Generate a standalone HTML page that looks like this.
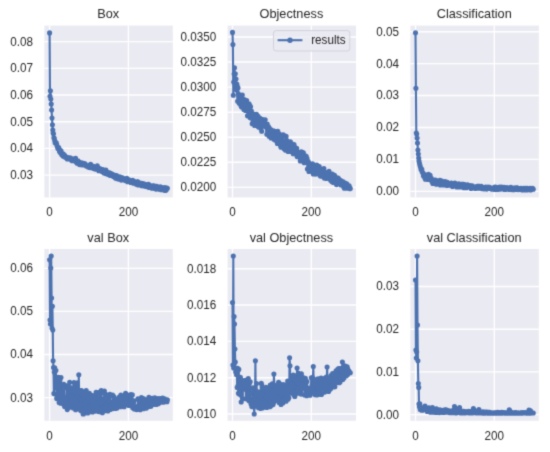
<!DOCTYPE html>
<html lang="en"><head><meta charset="utf-8"><title>results</title>
<style>
html,body{margin:0;padding:0;background:#fff;}
body{width:550px;height:452px;overflow:hidden;}
svg{display:block;}
text{font-family:"Liberation Sans",sans-serif;fill:#262626;}
.t{font-size:11.7px;}
.h{font-size:12.75px;}
</style></head><body>
<svg width="550" height="452" viewBox="0 0 550 452">
<defs><filter id="soft" x="0" y="0" width="100%" height="100%" filterUnits="objectBoundingBox" color-interpolation-filters="sRGB"><feConvolveMatrix order="3" kernelMatrix="0.0225 0.1050 0.0225 0.1050 0.4900 0.1050 0.0225 0.1050 0.0225" divisor="1" edgeMode="duplicate" preserveAlpha="true"/></filter></defs>
<g filter="url(#soft)">
<rect width="550" height="452" fill="#fff"/>
<g class="ax">
<rect x="44.4" y="25.6" width="128.4" height="171.8" fill="#eaeaf2"/>
<path d="M49.6 25.6V197.4 M128.4 25.6V197.4 M44.4 41.6H172.8 M44.4 68.3H172.8 M44.4 95.0H172.8 M44.4 121.7H172.8 M44.4 148.4H172.8 M44.4 175.1H172.8" stroke="#fff" stroke-width="1.35" fill="none"/>
<polyline points="49.6,32.9 50.0,96.3 50.4,90.7 50.8,99.0 51.2,104.0 51.6,110.0 52.0,118.0 52.4,124.8 52.8,130.0 53.1,133.0 53.5,133.7 53.9,137.8 54.3,138.2 54.7,140.5 55.1,142.7 55.5,142.6 55.9,143.3 56.3,142.9 56.7,144.4 57.1,146.0 57.5,147.3 57.9,148.4 58.3,147.8 58.7,147.6 59.1,149.0 59.5,151.4 59.8,149.8 60.2,151.1 60.6,153.1 61.0,150.9 61.4,153.2 61.8,154.8 62.2,153.2 62.6,154.6 63.0,156.1 63.4,154.1 63.8,155.7 64.2,156.8 64.6,155.4 65.0,156.8 65.4,156.4 65.8,157.4 66.1,157.2 66.5,157.6 66.9,157.4 67.3,159.0 67.7,158.9 68.1,157.7 68.5,158.6 68.9,157.8 69.3,158.5 69.7,158.3 70.1,157.8 70.5,158.6 70.9,159.0 71.3,159.9 71.7,159.1 72.1,160.8 72.5,158.7 72.8,160.5 73.2,159.8 73.6,160.0 74.0,160.8 74.4,160.6 74.8,160.5 75.2,159.4 75.6,158.3 76.0,161.9 76.4,161.6 76.8,162.3 77.2,163.3 77.6,162.6 78.0,160.9 78.4,161.9 78.8,162.9 79.2,162.0 79.5,164.4 79.9,164.6 80.3,164.5 80.7,163.5 81.1,164.7 81.5,162.7 81.9,163.4 82.3,164.0 82.7,164.9 83.1,164.3 83.5,163.3 83.9,164.1 84.3,164.1 84.7,164.2 85.1,163.9 85.5,164.8 85.8,165.0 86.2,166.1 86.6,166.3 87.0,165.6 87.4,165.5 87.8,166.6 88.2,167.0 88.6,166.5 89.0,167.0 89.4,167.5 89.8,165.0 90.2,167.6 90.6,164.3 91.0,166.6 91.4,167.7 91.8,167.6 92.2,166.0 92.5,167.7 92.9,166.1 93.3,167.1 93.7,168.6 94.1,167.5 94.5,168.2 94.9,168.7 95.3,169.1 95.7,169.1 96.1,166.9 96.5,168.3 96.9,168.6 97.3,165.9 97.7,169.1 98.1,169.4 98.5,170.2 98.8,170.7 99.2,168.4 99.6,168.8 100.0,170.2 100.4,168.8 100.8,169.2 101.2,170.4 101.6,169.4 102.0,171.4 102.4,171.8 102.8,169.6 103.2,171.3 103.6,172.2 104.0,173.0 104.4,171.1 104.8,170.9 105.2,173.2 105.5,173.5 105.9,170.0 106.3,172.5 106.7,173.5 107.1,174.1 107.5,172.3 107.9,174.0 108.3,174.6 108.7,174.0 109.1,173.0 109.5,172.8 109.9,173.8 110.3,175.5 110.7,173.4 111.1,173.5 111.5,174.7 111.9,174.0 112.2,174.4 112.6,174.2 113.0,175.8 113.4,176.5 113.8,175.8 114.2,175.1 114.6,175.8 115.0,176.8 115.4,178.0 115.8,178.3 116.2,176.2 116.6,175.6 117.0,176.6 117.4,178.7 117.8,177.4 118.2,178.5 118.6,178.9 118.9,178.3 119.3,179.3 119.7,176.9 120.1,177.8 120.5,177.9 120.9,177.6 121.3,180.1 121.7,177.6 122.1,179.6 122.5,177.9 122.9,178.9 123.3,179.1 123.7,178.5 124.1,179.6 124.5,179.8 124.9,179.2 125.2,180.6 125.6,178.9 126.0,179.1 126.4,179.7 126.8,178.3 127.2,179.5 127.6,181.7 128.0,181.5 128.4,179.5 128.8,180.3 129.2,180.0 129.6,180.8 130.0,180.3 130.4,181.1 130.8,182.5 131.2,181.0 131.6,181.9 131.9,181.8 132.3,182.4 132.7,180.4 133.1,182.6 133.5,183.3 133.9,182.4 134.3,181.6 134.7,182.9 135.1,183.1 135.5,183.1 135.9,181.7 136.3,184.3 136.7,184.3 137.1,182.8 137.5,181.9 137.9,181.9 138.2,184.9 138.6,184.5 139.0,184.1 139.4,184.6 139.8,183.0 140.2,183.4 140.6,183.4 141.0,184.5 141.4,183.2 141.8,185.7 142.2,184.5 142.6,184.5 143.0,183.6 143.4,185.4 143.8,185.9 144.2,185.5 144.6,184.4 144.9,186.1 145.3,184.3 145.7,186.4 146.1,185.8 146.5,185.0 146.9,185.8 147.3,186.2 147.7,185.2 148.1,187.1 148.5,184.3 148.9,187.4 149.3,187.3 149.7,185.2 150.1,187.0 150.5,186.0 150.9,187.5 151.3,186.9 151.6,186.8 152.0,188.2 152.4,185.7 152.8,187.3 153.2,186.7 153.6,185.8 154.0,188.1 154.4,187.5 154.8,188.6 155.2,186.2 155.6,187.1 156.0,189.1 156.4,186.5 156.8,186.4 157.2,188.5 157.6,187.5 158.0,187.5 158.3,189.1 158.7,187.5 159.1,189.2 159.5,188.6 159.9,187.7 160.3,186.9 160.7,187.6 161.1,189.8 161.5,188.2 161.9,187.5 162.3,188.0 162.7,189.8 163.1,187.7 163.5,189.6 163.9,187.7 164.3,190.3 164.6,189.0 165.0,187.6 165.4,190.4 165.8,188.7 166.2,189.9 166.6,189.3 167.0,188.1 167.4,188.2" fill="none" stroke="#4c72b0" stroke-width="2.1" stroke-linejoin="round" stroke-linecap="round"/>
<path d="M49.6 32.9h0M50.0 96.3h0M50.4 90.7h0M50.8 99.0h0M51.2 104.0h0M51.6 110.0h0M52.0 118.0h0M52.4 124.8h0M52.8 130.0h0M53.1 133.0h0M53.5 133.7h0M53.9 137.8h0M54.3 138.2h0M54.7 140.5h0M55.1 142.7h0M55.5 142.6h0M55.9 143.3h0M56.3 142.9h0M56.7 144.4h0M57.1 146.0h0M57.5 147.3h0M57.9 148.4h0M58.3 147.8h0M58.7 147.6h0M59.1 149.0h0M59.5 151.4h0M59.8 149.8h0M60.2 151.1h0M60.6 153.1h0M61.0 150.9h0M61.4 153.2h0M61.8 154.8h0M62.2 153.2h0M62.6 154.6h0M63.0 156.1h0M63.4 154.1h0M63.8 155.7h0M64.2 156.8h0M64.6 155.4h0M65.0 156.8h0M65.4 156.4h0M65.8 157.4h0M66.1 157.2h0M66.5 157.6h0M66.9 157.4h0M67.3 159.0h0M67.7 158.9h0M68.1 157.7h0M68.5 158.6h0M68.9 157.8h0M69.3 158.5h0M69.7 158.3h0M70.1 157.8h0M70.5 158.6h0M70.9 159.0h0M71.3 159.9h0M71.7 159.1h0M72.1 160.8h0M72.5 158.7h0M72.8 160.5h0M73.2 159.8h0M73.6 160.0h0M74.0 160.8h0M74.4 160.6h0M74.8 160.5h0M75.2 159.4h0M75.6 158.3h0M76.0 161.9h0M76.4 161.6h0M76.8 162.3h0M77.2 163.3h0M77.6 162.6h0M78.0 160.9h0M78.4 161.9h0M78.8 162.9h0M79.2 162.0h0M79.5 164.4h0M79.9 164.6h0M80.3 164.5h0M80.7 163.5h0M81.1 164.7h0M81.5 162.7h0M81.9 163.4h0M82.3 164.0h0M82.7 164.9h0M83.1 164.3h0M83.5 163.3h0M83.9 164.1h0M84.3 164.1h0M84.7 164.2h0M85.1 163.9h0M85.5 164.8h0M85.8 165.0h0M86.2 166.1h0M86.6 166.3h0M87.0 165.6h0M87.4 165.5h0M87.8 166.6h0M88.2 167.0h0M88.6 166.5h0M89.0 167.0h0M89.4 167.5h0M89.8 165.0h0M90.2 167.6h0M90.6 164.3h0M91.0 166.6h0M91.4 167.7h0M91.8 167.6h0M92.2 166.0h0M92.5 167.7h0M92.9 166.1h0M93.3 167.1h0M93.7 168.6h0M94.1 167.5h0M94.5 168.2h0M94.9 168.7h0M95.3 169.1h0M95.7 169.1h0M96.1 166.9h0M96.5 168.3h0M96.9 168.6h0M97.3 165.9h0M97.7 169.1h0M98.1 169.4h0M98.5 170.2h0M98.8 170.7h0M99.2 168.4h0M99.6 168.8h0M100.0 170.2h0M100.4 168.8h0M100.8 169.2h0M101.2 170.4h0M101.6 169.4h0M102.0 171.4h0M102.4 171.8h0M102.8 169.6h0M103.2 171.3h0M103.6 172.2h0M104.0 173.0h0M104.4 171.1h0M104.8 170.9h0M105.2 173.2h0M105.5 173.5h0M105.9 170.0h0M106.3 172.5h0M106.7 173.5h0M107.1 174.1h0M107.5 172.3h0M107.9 174.0h0M108.3 174.6h0M108.7 174.0h0M109.1 173.0h0M109.5 172.8h0M109.9 173.8h0M110.3 175.5h0M110.7 173.4h0M111.1 173.5h0M111.5 174.7h0M111.9 174.0h0M112.2 174.4h0M112.6 174.2h0M113.0 175.8h0M113.4 176.5h0M113.8 175.8h0M114.2 175.1h0M114.6 175.8h0M115.0 176.8h0M115.4 178.0h0M115.8 178.3h0M116.2 176.2h0M116.6 175.6h0M117.0 176.6h0M117.4 178.7h0M117.8 177.4h0M118.2 178.5h0M118.6 178.9h0M118.9 178.3h0M119.3 179.3h0M119.7 176.9h0M120.1 177.8h0M120.5 177.9h0M120.9 177.6h0M121.3 180.1h0M121.7 177.6h0M122.1 179.6h0M122.5 177.9h0M122.9 178.9h0M123.3 179.1h0M123.7 178.5h0M124.1 179.6h0M124.5 179.8h0M124.9 179.2h0M125.2 180.6h0M125.6 178.9h0M126.0 179.1h0M126.4 179.7h0M126.8 178.3h0M127.2 179.5h0M127.6 181.7h0M128.0 181.5h0M128.4 179.5h0M128.8 180.3h0M129.2 180.0h0M129.6 180.8h0M130.0 180.3h0M130.4 181.1h0M130.8 182.5h0M131.2 181.0h0M131.6 181.9h0M131.9 181.8h0M132.3 182.4h0M132.7 180.4h0M133.1 182.6h0M133.5 183.3h0M133.9 182.4h0M134.3 181.6h0M134.7 182.9h0M135.1 183.1h0M135.5 183.1h0M135.9 181.7h0M136.3 184.3h0M136.7 184.3h0M137.1 182.8h0M137.5 181.9h0M137.9 181.9h0M138.2 184.9h0M138.6 184.5h0M139.0 184.1h0M139.4 184.6h0M139.8 183.0h0M140.2 183.4h0M140.6 183.4h0M141.0 184.5h0M141.4 183.2h0M141.8 185.7h0M142.2 184.5h0M142.6 184.5h0M143.0 183.6h0M143.4 185.4h0M143.8 185.9h0M144.2 185.5h0M144.6 184.4h0M144.9 186.1h0M145.3 184.3h0M145.7 186.4h0M146.1 185.8h0M146.5 185.0h0M146.9 185.8h0M147.3 186.2h0M147.7 185.2h0M148.1 187.1h0M148.5 184.3h0M148.9 187.4h0M149.3 187.3h0M149.7 185.2h0M150.1 187.0h0M150.5 186.0h0M150.9 187.5h0M151.3 186.9h0M151.6 186.8h0M152.0 188.2h0M152.4 185.7h0M152.8 187.3h0M153.2 186.7h0M153.6 185.8h0M154.0 188.1h0M154.4 187.5h0M154.8 188.6h0M155.2 186.2h0M155.6 187.1h0M156.0 189.1h0M156.4 186.5h0M156.8 186.4h0M157.2 188.5h0M157.6 187.5h0M158.0 187.5h0M158.3 189.1h0M158.7 187.5h0M159.1 189.2h0M159.5 188.6h0M159.9 187.7h0M160.3 186.9h0M160.7 187.6h0M161.1 189.8h0M161.5 188.2h0M161.9 187.5h0M162.3 188.0h0M162.7 189.8h0M163.1 187.7h0M163.5 189.6h0M163.9 187.7h0M164.3 190.3h0M164.6 189.0h0M165.0 187.6h0M165.4 190.4h0M165.8 188.7h0M166.2 189.9h0M166.6 189.3h0M167.0 188.1h0M167.4 188.2h0" stroke="#4c72b0" stroke-width="5.1" stroke-linecap="round" fill="none"/>
<text class="t" transform="translate(33.1 45.5) scale(1 1.08)" text-anchor="end">0.08</text>
<text class="t" transform="translate(33.1 72.2) scale(1 1.08)" text-anchor="end">0.07</text>
<text class="t" transform="translate(33.1 98.9) scale(1 1.08)" text-anchor="end">0.06</text>
<text class="t" transform="translate(33.1 125.6) scale(1 1.08)" text-anchor="end">0.05</text>
<text class="t" transform="translate(33.1 152.3) scale(1 1.08)" text-anchor="end">0.04</text>
<text class="t" transform="translate(33.1 179.0) scale(1 1.08)" text-anchor="end">0.03</text>
<text class="t" transform="translate(49.6 216.4) scale(1 1.08)" text-anchor="middle">0</text>
<text class="t" transform="translate(128.4 216.4) scale(1 1.08)" text-anchor="middle">200</text>
<text class="h" transform="translate(108.2 18.4) scale(1 1.07)" text-anchor="middle">Box</text>
</g>
<g class="ax">
<rect x="227.6" y="25.6" width="128.4" height="171.8" fill="#eaeaf2"/>
<path d="M232.5 25.6V197.4 M311.3 25.6V197.4 M227.6 37.0H356.0 M227.6 62.0H356.0 M227.6 87.1H356.0 M227.6 112.2H356.0 M227.6 137.2H356.0 M227.6 162.2H356.0 M227.6 187.3H356.0" stroke="#fff" stroke-width="1.35" fill="none"/>
<polyline points="232.5,32.4 232.9,44.6 233.3,95.2 233.7,82.0 234.1,74.0 234.5,67.8 234.9,80.0 235.3,73.8 235.7,88.0 236.0,79.0 236.4,90.0 236.8,84.0 237.2,85.7 237.6,101.3 238.0,87.9 238.4,93.9 238.8,97.0 239.2,103.3 239.6,103.1 240.0,100.7 240.4,97.9 240.8,105.3 241.2,106.3 241.6,106.9 242.0,104.9 242.3,95.0 242.7,98.8 243.1,102.5 243.5,103.2 243.9,109.4 244.3,99.5 244.7,107.5 245.1,102.7 245.5,110.5 245.9,100.8 246.3,106.3 246.7,100.6 247.1,103.1 247.5,115.7 247.9,106.1 248.3,115.9 248.7,110.6 249.0,103.7 249.4,115.9 249.8,105.3 250.2,117.8 250.6,106.8 251.0,117.3 251.4,111.1 251.8,114.6 252.2,123.7 252.6,118.4 253.0,120.9 253.4,122.3 253.8,114.1 254.2,124.2 254.6,125.5 255.0,115.4 255.4,121.0 255.7,117.6 256.1,124.2 256.5,114.4 256.9,121.5 257.3,125.7 257.7,125.2 258.1,116.4 258.5,127.1 258.9,118.7 259.3,127.3 259.7,123.0 260.1,118.3 260.5,127.0 260.9,128.4 261.3,127.0 261.7,131.3 262.1,120.8 262.4,120.7 262.8,119.6 263.2,125.9 263.6,124.1 264.0,123.8 264.4,125.7 264.8,123.3 265.2,119.7 265.6,126.8 266.0,124.3 266.4,127.2 266.8,134.2 267.2,124.0 267.6,130.7 268.0,131.1 268.4,126.5 268.7,129.4 269.1,136.3 269.5,128.4 269.9,133.5 270.3,135.5 270.7,129.6 271.1,137.9 271.5,133.6 271.9,132.4 272.3,135.3 272.7,132.1 273.1,135.8 273.5,130.9 273.9,139.2 274.3,134.8 274.7,131.2 275.1,134.0 275.4,140.3 275.8,139.6 276.2,135.6 276.6,134.0 277.0,134.7 277.4,143.5 277.8,131.4 278.2,142.9 278.6,142.9 279.0,133.8 279.4,136.0 279.8,139.6 280.2,143.5 280.6,146.2 281.0,147.3 281.4,136.3 281.8,135.1 282.1,140.2 282.5,141.6 282.9,143.6 283.3,134.8 283.7,144.0 284.1,148.7 284.5,148.8 284.9,149.5 285.3,149.4 285.7,150.2 286.1,136.4 286.5,149.9 286.9,140.5 287.3,141.6 287.7,143.9 288.1,151.4 288.4,146.6 288.8,143.3 289.2,143.9 289.6,151.5 290.0,150.6 290.4,141.7 290.8,143.6 291.2,145.5 291.6,143.8 292.0,148.5 292.4,144.6 292.8,149.2 293.2,153.8 293.6,153.1 294.0,144.5 294.4,146.2 294.8,149.0 295.1,152.2 295.5,149.4 295.9,148.2 296.3,149.6 296.7,148.3 297.1,156.6 297.5,154.9 297.9,151.9 298.3,155.7 298.7,153.9 299.1,154.3 299.5,152.8 299.9,154.6 300.3,160.9 300.7,158.9 301.1,159.8 301.4,151.7 301.8,156.6 302.2,155.3 302.6,152.3 303.0,156.4 303.4,152.9 303.8,155.4 304.2,162.7 304.6,161.9 305.0,162.6 305.4,155.8 305.8,157.3 306.2,156.2 306.6,157.7 307.0,158.3 307.4,169.1 307.8,168.9 308.1,161.2 308.5,162.4 308.9,171.4 309.3,167.3 309.7,165.4 310.1,166.8 310.5,164.6 310.9,168.5 311.3,170.3 311.7,168.0 312.1,171.6 312.5,163.8 312.9,169.4 313.3,173.9 313.7,164.8 314.1,168.7 314.5,170.3 314.8,167.4 315.2,174.1 315.6,169.3 316.0,169.4 316.4,173.9 316.8,165.0 317.2,173.8 317.6,166.5 318.0,169.2 318.4,170.4 318.8,170.5 319.2,166.5 319.6,169.3 320.0,169.9 320.4,175.9 320.8,175.7 321.1,172.7 321.5,176.2 321.9,175.8 322.3,171.3 322.7,169.0 323.1,173.9 323.5,171.4 323.9,168.5 324.3,178.1 324.7,178.1 325.1,174.2 325.5,175.2 325.9,175.9 326.3,178.5 326.7,174.3 327.1,175.6 327.5,172.4 327.8,172.7 328.2,175.6 328.6,173.0 329.0,171.3 329.4,174.8 329.8,178.7 330.2,174.5 330.6,180.3 331.0,179.1 331.4,178.9 331.8,181.4 332.2,174.1 332.6,175.4 333.0,182.3 333.4,182.5 333.8,175.4 334.2,181.8 334.5,175.4 334.9,176.8 335.3,176.8 335.7,178.7 336.1,179.8 336.5,184.6 336.9,180.8 337.3,178.4 337.7,180.0 338.1,178.1 338.5,178.5 338.9,182.2 339.3,183.1 339.7,181.1 340.1,182.4 340.5,180.4 340.9,184.9 341.2,183.0 341.6,181.4 342.0,184.1 342.4,182.1 342.8,182.9 343.2,181.9 343.6,186.7 344.0,183.4 344.4,188.2 344.8,184.6 345.2,183.1 345.6,186.9 346.0,187.2 346.4,188.3 346.8,183.7 347.2,187.9 347.5,188.3 347.9,185.4 348.3,186.3 348.7,187.3 349.1,185.7 349.5,188.6 349.9,187.9 350.3,188.6" fill="none" stroke="#4c72b0" stroke-width="2.1" stroke-linejoin="round" stroke-linecap="round"/>
<path d="M232.5 32.4h0M232.9 44.6h0M233.3 95.2h0M233.7 82.0h0M234.1 74.0h0M234.5 67.8h0M234.9 80.0h0M235.3 73.8h0M235.7 88.0h0M236.0 79.0h0M236.4 90.0h0M236.8 84.0h0M237.2 85.7h0M237.6 101.3h0M238.0 87.9h0M238.4 93.9h0M238.8 97.0h0M239.2 103.3h0M239.6 103.1h0M240.0 100.7h0M240.4 97.9h0M240.8 105.3h0M241.2 106.3h0M241.6 106.9h0M242.0 104.9h0M242.3 95.0h0M242.7 98.8h0M243.1 102.5h0M243.5 103.2h0M243.9 109.4h0M244.3 99.5h0M244.7 107.5h0M245.1 102.7h0M245.5 110.5h0M245.9 100.8h0M246.3 106.3h0M246.7 100.6h0M247.1 103.1h0M247.5 115.7h0M247.9 106.1h0M248.3 115.9h0M248.7 110.6h0M249.0 103.7h0M249.4 115.9h0M249.8 105.3h0M250.2 117.8h0M250.6 106.8h0M251.0 117.3h0M251.4 111.1h0M251.8 114.6h0M252.2 123.7h0M252.6 118.4h0M253.0 120.9h0M253.4 122.3h0M253.8 114.1h0M254.2 124.2h0M254.6 125.5h0M255.0 115.4h0M255.4 121.0h0M255.7 117.6h0M256.1 124.2h0M256.5 114.4h0M256.9 121.5h0M257.3 125.7h0M257.7 125.2h0M258.1 116.4h0M258.5 127.1h0M258.9 118.7h0M259.3 127.3h0M259.7 123.0h0M260.1 118.3h0M260.5 127.0h0M260.9 128.4h0M261.3 127.0h0M261.7 131.3h0M262.1 120.8h0M262.4 120.7h0M262.8 119.6h0M263.2 125.9h0M263.6 124.1h0M264.0 123.8h0M264.4 125.7h0M264.8 123.3h0M265.2 119.7h0M265.6 126.8h0M266.0 124.3h0M266.4 127.2h0M266.8 134.2h0M267.2 124.0h0M267.6 130.7h0M268.0 131.1h0M268.4 126.5h0M268.7 129.4h0M269.1 136.3h0M269.5 128.4h0M269.9 133.5h0M270.3 135.5h0M270.7 129.6h0M271.1 137.9h0M271.5 133.6h0M271.9 132.4h0M272.3 135.3h0M272.7 132.1h0M273.1 135.8h0M273.5 130.9h0M273.9 139.2h0M274.3 134.8h0M274.7 131.2h0M275.1 134.0h0M275.4 140.3h0M275.8 139.6h0M276.2 135.6h0M276.6 134.0h0M277.0 134.7h0M277.4 143.5h0M277.8 131.4h0M278.2 142.9h0M278.6 142.9h0M279.0 133.8h0M279.4 136.0h0M279.8 139.6h0M280.2 143.5h0M280.6 146.2h0M281.0 147.3h0M281.4 136.3h0M281.8 135.1h0M282.1 140.2h0M282.5 141.6h0M282.9 143.6h0M283.3 134.8h0M283.7 144.0h0M284.1 148.7h0M284.5 148.8h0M284.9 149.5h0M285.3 149.4h0M285.7 150.2h0M286.1 136.4h0M286.5 149.9h0M286.9 140.5h0M287.3 141.6h0M287.7 143.9h0M288.1 151.4h0M288.4 146.6h0M288.8 143.3h0M289.2 143.9h0M289.6 151.5h0M290.0 150.6h0M290.4 141.7h0M290.8 143.6h0M291.2 145.5h0M291.6 143.8h0M292.0 148.5h0M292.4 144.6h0M292.8 149.2h0M293.2 153.8h0M293.6 153.1h0M294.0 144.5h0M294.4 146.2h0M294.8 149.0h0M295.1 152.2h0M295.5 149.4h0M295.9 148.2h0M296.3 149.6h0M296.7 148.3h0M297.1 156.6h0M297.5 154.9h0M297.9 151.9h0M298.3 155.7h0M298.7 153.9h0M299.1 154.3h0M299.5 152.8h0M299.9 154.6h0M300.3 160.9h0M300.7 158.9h0M301.1 159.8h0M301.4 151.7h0M301.8 156.6h0M302.2 155.3h0M302.6 152.3h0M303.0 156.4h0M303.4 152.9h0M303.8 155.4h0M304.2 162.7h0M304.6 161.9h0M305.0 162.6h0M305.4 155.8h0M305.8 157.3h0M306.2 156.2h0M306.6 157.7h0M307.0 158.3h0M307.4 169.1h0M307.8 168.9h0M308.1 161.2h0M308.5 162.4h0M308.9 171.4h0M309.3 167.3h0M309.7 165.4h0M310.1 166.8h0M310.5 164.6h0M310.9 168.5h0M311.3 170.3h0M311.7 168.0h0M312.1 171.6h0M312.5 163.8h0M312.9 169.4h0M313.3 173.9h0M313.7 164.8h0M314.1 168.7h0M314.5 170.3h0M314.8 167.4h0M315.2 174.1h0M315.6 169.3h0M316.0 169.4h0M316.4 173.9h0M316.8 165.0h0M317.2 173.8h0M317.6 166.5h0M318.0 169.2h0M318.4 170.4h0M318.8 170.5h0M319.2 166.5h0M319.6 169.3h0M320.0 169.9h0M320.4 175.9h0M320.8 175.7h0M321.1 172.7h0M321.5 176.2h0M321.9 175.8h0M322.3 171.3h0M322.7 169.0h0M323.1 173.9h0M323.5 171.4h0M323.9 168.5h0M324.3 178.1h0M324.7 178.1h0M325.1 174.2h0M325.5 175.2h0M325.9 175.9h0M326.3 178.5h0M326.7 174.3h0M327.1 175.6h0M327.5 172.4h0M327.8 172.7h0M328.2 175.6h0M328.6 173.0h0M329.0 171.3h0M329.4 174.8h0M329.8 178.7h0M330.2 174.5h0M330.6 180.3h0M331.0 179.1h0M331.4 178.9h0M331.8 181.4h0M332.2 174.1h0M332.6 175.4h0M333.0 182.3h0M333.4 182.5h0M333.8 175.4h0M334.2 181.8h0M334.5 175.4h0M334.9 176.8h0M335.3 176.8h0M335.7 178.7h0M336.1 179.8h0M336.5 184.6h0M336.9 180.8h0M337.3 178.4h0M337.7 180.0h0M338.1 178.1h0M338.5 178.5h0M338.9 182.2h0M339.3 183.1h0M339.7 181.1h0M340.1 182.4h0M340.5 180.4h0M340.9 184.9h0M341.2 183.0h0M341.6 181.4h0M342.0 184.1h0M342.4 182.1h0M342.8 182.9h0M343.2 181.9h0M343.6 186.7h0M344.0 183.4h0M344.4 188.2h0M344.8 184.6h0M345.2 183.1h0M345.6 186.9h0M346.0 187.2h0M346.4 188.3h0M346.8 183.7h0M347.2 187.9h0M347.5 188.3h0M347.9 185.4h0M348.3 186.3h0M348.7 187.3h0M349.1 185.7h0M349.5 188.6h0M349.9 187.9h0M350.3 188.6h0" stroke="#4c72b0" stroke-width="5.1" stroke-linecap="round" fill="none"/>
<text class="t" transform="translate(216.3 40.9) scale(1 1.08)" text-anchor="end">0.0350</text>
<text class="t" transform="translate(216.3 66.0) scale(1 1.08)" text-anchor="end">0.0325</text>
<text class="t" transform="translate(216.3 91.0) scale(1 1.08)" text-anchor="end">0.0300</text>
<text class="t" transform="translate(216.3 116.1) scale(1 1.08)" text-anchor="end">0.0275</text>
<text class="t" transform="translate(216.3 141.1) scale(1 1.08)" text-anchor="end">0.0250</text>
<text class="t" transform="translate(216.3 166.2) scale(1 1.08)" text-anchor="end">0.0225</text>
<text class="t" transform="translate(216.3 191.2) scale(1 1.08)" text-anchor="end">0.0200</text>
<text class="t" transform="translate(232.5 216.4) scale(1 1.08)" text-anchor="middle">0</text>
<text class="t" transform="translate(311.3 216.4) scale(1 1.08)" text-anchor="middle">200</text>
<text class="h" transform="translate(291.4 18.4) scale(1 1.07)" text-anchor="middle">Objectness</text>
<rect x="273.5" y="30.6" width="76.3" height="20.4" rx="2.6" fill="#eaeaf2" fill-opacity="0.85" stroke="#d2d2da" stroke-width="1"/>
<path d="M277.6 40.2H302.4" stroke="#4c72b0" stroke-width="2.1" fill="none"/>
<circle cx="290" cy="40.2" r="2.7" fill="#4c72b0"/>
<text class="t" transform="translate(311.2 44.2) scale(1 1.08)">results</text>
</g>
<g class="ax">
<rect x="410.4" y="25.6" width="128.4" height="171.8" fill="#eaeaf2"/>
<path d="M415.5 25.6V197.4 M494.3 25.6V197.4 M410.4 31.7H538.8 M410.4 63.6H538.8 M410.4 95.5H538.8 M410.4 127.5H538.8 M410.4 159.4H538.8 M410.4 191.3H538.8" stroke="#fff" stroke-width="1.35" fill="none"/>
<polyline points="415.5,32.7 415.9,88.2 416.3,133.0 416.7,134.0 417.1,138.0 417.5,143.0 417.9,150.0 418.3,154.0 418.7,158.0 419.0,161.0 419.4,163.0 419.8,164.8 420.2,166.2 420.6,167.5 421.0,169.5 421.4,168.8 421.8,169.3 422.2,171.9 422.6,172.5 423.0,173.0 423.4,175.8 423.8,176.3 424.2,174.4 424.6,176.8 425.0,178.3 425.4,179.3 425.7,174.8 426.1,179.3 426.5,175.7 426.9,178.6 427.3,177.9 427.7,179.4 428.1,177.5 428.5,174.4 428.9,177.1 429.3,174.8 429.7,178.5 430.1,175.3 430.5,177.5 430.9,180.1 431.3,178.3 431.7,181.1 432.0,181.8 432.4,182.3 432.8,183.4 433.2,181.6 433.6,180.3 434.0,180.9 434.4,181.6 434.8,180.0 435.2,183.2 435.6,180.2 436.0,180.2 436.4,184.3 436.8,183.8 437.2,181.2 437.6,181.7 438.0,183.9 438.4,183.0 438.7,181.4 439.1,182.3 439.5,184.2 439.9,180.4 440.3,184.9 440.7,183.0 441.1,181.3 441.5,184.2 441.9,181.0 442.3,182.6 442.7,183.4 443.1,182.0 443.5,184.9 443.9,184.1 444.3,181.8 444.7,181.9 445.1,181.5 445.4,183.8 445.8,182.2 446.2,183.8 446.6,185.1 447.0,185.4 447.4,182.2 447.8,183.2 448.2,183.6 448.6,183.6 449.0,183.8 449.4,184.0 449.8,185.3 450.2,183.5 450.6,183.7 451.0,184.0 451.4,183.0 451.7,185.1 452.1,184.2 452.5,186.4 452.9,186.0 453.3,183.7 453.7,183.8 454.1,186.0 454.5,185.2 454.9,183.1 455.3,185.6 455.7,184.7 456.1,186.3 456.5,186.2 456.9,186.9 457.3,186.1 457.7,187.0 458.1,184.6 458.4,184.8 458.8,183.8 459.2,186.9 459.6,184.2 460.0,185.8 460.4,185.7 460.8,186.9 461.2,185.3 461.6,184.4 462.0,185.4 462.4,184.2 462.8,185.2 463.2,186.4 463.6,184.4 464.0,187.8 464.4,186.2 464.8,185.4 465.1,187.3 465.5,184.9 465.9,185.6 466.3,187.8 466.7,185.4 467.1,187.2 467.5,184.9 467.9,186.5 468.3,187.0 468.7,185.5 469.1,186.0 469.5,186.8 469.9,186.9 470.3,185.5 470.7,186.4 471.1,188.4 471.4,186.2 471.8,187.8 472.2,185.9 472.6,186.8 473.0,187.0 473.4,187.3 473.8,187.7 474.2,188.0 474.6,187.7 475.0,188.1 475.4,188.4 475.8,186.7 476.2,188.3 476.6,187.4 477.0,186.6 477.4,186.4 477.8,188.3 478.1,187.9 478.5,186.2 478.9,187.8 479.3,186.2 479.7,187.3 480.1,187.9 480.5,188.2 480.9,186.7 481.3,186.4 481.7,188.0 482.1,188.8 482.5,188.7 482.9,187.4 483.3,188.1 483.7,188.5 484.1,189.0 484.4,187.9 484.8,189.0 485.2,187.4 485.6,187.2 486.0,187.4 486.4,188.6 486.8,189.1 487.2,187.9 487.6,188.6 488.0,187.0 488.4,188.1 488.8,187.9 489.2,187.9 489.6,187.3 490.0,188.5 490.4,188.6 490.8,188.5 491.1,188.8 491.5,188.1 491.9,189.2 492.3,188.4 492.7,189.3 493.1,188.0 493.5,188.8 493.9,187.5 494.3,187.2 494.7,189.4 495.1,188.0 495.5,187.1 495.9,188.6 496.3,189.4 496.7,189.0 497.1,189.5 497.5,189.4 497.8,188.2 498.2,187.6 498.6,187.2 499.0,187.7 499.4,188.6 499.8,189.3 500.2,187.0 500.6,189.1 501.0,189.0 501.4,188.8 501.8,187.4 502.2,187.2 502.6,188.9 503.0,188.6 503.4,188.0 503.8,187.9 504.1,187.2 504.5,189.5 504.9,189.1 505.3,189.5 505.7,189.1 506.1,188.2 506.5,189.1 506.9,187.6 507.3,188.7 507.7,187.7 508.1,188.1 508.5,189.3 508.9,188.2 509.3,189.4 509.7,188.7 510.1,188.0 510.5,187.9 510.8,187.4 511.2,188.7 511.6,189.4 512.0,187.9 512.4,188.6 512.8,189.7 513.2,188.4 513.6,189.7 514.0,189.4 514.4,188.7 514.8,189.0 515.2,187.8 515.6,188.8 516.0,189.4 516.4,188.2 516.8,187.8 517.2,187.8 517.5,188.1 517.9,188.3 518.3,189.6 518.7,188.9 519.1,189.1 519.5,188.6 519.9,188.6 520.3,189.1 520.7,189.5 521.1,188.3 521.5,188.9 521.9,189.3 522.3,190.0 522.7,188.5 523.1,188.8 523.5,189.1 523.9,188.2 524.2,189.2 524.6,190.0 525.0,188.5 525.4,189.0 525.8,188.2 526.2,189.0 526.6,190.0 527.0,189.1 527.4,188.4 527.8,188.6 528.2,189.3 528.6,189.7 529.0,188.9 529.4,189.0 529.8,189.6 530.2,188.2 530.5,189.9 530.9,188.9 531.3,188.7 531.7,189.6 532.1,188.5 532.5,188.3 532.9,188.5 533.3,189.3" fill="none" stroke="#4c72b0" stroke-width="2.1" stroke-linejoin="round" stroke-linecap="round"/>
<path d="M415.5 32.7h0M415.9 88.2h0M416.3 133.0h0M416.7 134.0h0M417.1 138.0h0M417.5 143.0h0M417.9 150.0h0M418.3 154.0h0M418.7 158.0h0M419.0 161.0h0M419.4 163.0h0M419.8 164.8h0M420.2 166.2h0M420.6 167.5h0M421.0 169.5h0M421.4 168.8h0M421.8 169.3h0M422.2 171.9h0M422.6 172.5h0M423.0 173.0h0M423.4 175.8h0M423.8 176.3h0M424.2 174.4h0M424.6 176.8h0M425.0 178.3h0M425.4 179.3h0M425.7 174.8h0M426.1 179.3h0M426.5 175.7h0M426.9 178.6h0M427.3 177.9h0M427.7 179.4h0M428.1 177.5h0M428.5 174.4h0M428.9 177.1h0M429.3 174.8h0M429.7 178.5h0M430.1 175.3h0M430.5 177.5h0M430.9 180.1h0M431.3 178.3h0M431.7 181.1h0M432.0 181.8h0M432.4 182.3h0M432.8 183.4h0M433.2 181.6h0M433.6 180.3h0M434.0 180.9h0M434.4 181.6h0M434.8 180.0h0M435.2 183.2h0M435.6 180.2h0M436.0 180.2h0M436.4 184.3h0M436.8 183.8h0M437.2 181.2h0M437.6 181.7h0M438.0 183.9h0M438.4 183.0h0M438.7 181.4h0M439.1 182.3h0M439.5 184.2h0M439.9 180.4h0M440.3 184.9h0M440.7 183.0h0M441.1 181.3h0M441.5 184.2h0M441.9 181.0h0M442.3 182.6h0M442.7 183.4h0M443.1 182.0h0M443.5 184.9h0M443.9 184.1h0M444.3 181.8h0M444.7 181.9h0M445.1 181.5h0M445.4 183.8h0M445.8 182.2h0M446.2 183.8h0M446.6 185.1h0M447.0 185.4h0M447.4 182.2h0M447.8 183.2h0M448.2 183.6h0M448.6 183.6h0M449.0 183.8h0M449.4 184.0h0M449.8 185.3h0M450.2 183.5h0M450.6 183.7h0M451.0 184.0h0M451.4 183.0h0M451.7 185.1h0M452.1 184.2h0M452.5 186.4h0M452.9 186.0h0M453.3 183.7h0M453.7 183.8h0M454.1 186.0h0M454.5 185.2h0M454.9 183.1h0M455.3 185.6h0M455.7 184.7h0M456.1 186.3h0M456.5 186.2h0M456.9 186.9h0M457.3 186.1h0M457.7 187.0h0M458.1 184.6h0M458.4 184.8h0M458.8 183.8h0M459.2 186.9h0M459.6 184.2h0M460.0 185.8h0M460.4 185.7h0M460.8 186.9h0M461.2 185.3h0M461.6 184.4h0M462.0 185.4h0M462.4 184.2h0M462.8 185.2h0M463.2 186.4h0M463.6 184.4h0M464.0 187.8h0M464.4 186.2h0M464.8 185.4h0M465.1 187.3h0M465.5 184.9h0M465.9 185.6h0M466.3 187.8h0M466.7 185.4h0M467.1 187.2h0M467.5 184.9h0M467.9 186.5h0M468.3 187.0h0M468.7 185.5h0M469.1 186.0h0M469.5 186.8h0M469.9 186.9h0M470.3 185.5h0M470.7 186.4h0M471.1 188.4h0M471.4 186.2h0M471.8 187.8h0M472.2 185.9h0M472.6 186.8h0M473.0 187.0h0M473.4 187.3h0M473.8 187.7h0M474.2 188.0h0M474.6 187.7h0M475.0 188.1h0M475.4 188.4h0M475.8 186.7h0M476.2 188.3h0M476.6 187.4h0M477.0 186.6h0M477.4 186.4h0M477.8 188.3h0M478.1 187.9h0M478.5 186.2h0M478.9 187.8h0M479.3 186.2h0M479.7 187.3h0M480.1 187.9h0M480.5 188.2h0M480.9 186.7h0M481.3 186.4h0M481.7 188.0h0M482.1 188.8h0M482.5 188.7h0M482.9 187.4h0M483.3 188.1h0M483.7 188.5h0M484.1 189.0h0M484.4 187.9h0M484.8 189.0h0M485.2 187.4h0M485.6 187.2h0M486.0 187.4h0M486.4 188.6h0M486.8 189.1h0M487.2 187.9h0M487.6 188.6h0M488.0 187.0h0M488.4 188.1h0M488.8 187.9h0M489.2 187.9h0M489.6 187.3h0M490.0 188.5h0M490.4 188.6h0M490.8 188.5h0M491.1 188.8h0M491.5 188.1h0M491.9 189.2h0M492.3 188.4h0M492.7 189.3h0M493.1 188.0h0M493.5 188.8h0M493.9 187.5h0M494.3 187.2h0M494.7 189.4h0M495.1 188.0h0M495.5 187.1h0M495.9 188.6h0M496.3 189.4h0M496.7 189.0h0M497.1 189.5h0M497.5 189.4h0M497.8 188.2h0M498.2 187.6h0M498.6 187.2h0M499.0 187.7h0M499.4 188.6h0M499.8 189.3h0M500.2 187.0h0M500.6 189.1h0M501.0 189.0h0M501.4 188.8h0M501.8 187.4h0M502.2 187.2h0M502.6 188.9h0M503.0 188.6h0M503.4 188.0h0M503.8 187.9h0M504.1 187.2h0M504.5 189.5h0M504.9 189.1h0M505.3 189.5h0M505.7 189.1h0M506.1 188.2h0M506.5 189.1h0M506.9 187.6h0M507.3 188.7h0M507.7 187.7h0M508.1 188.1h0M508.5 189.3h0M508.9 188.2h0M509.3 189.4h0M509.7 188.7h0M510.1 188.0h0M510.5 187.9h0M510.8 187.4h0M511.2 188.7h0M511.6 189.4h0M512.0 187.9h0M512.4 188.6h0M512.8 189.7h0M513.2 188.4h0M513.6 189.7h0M514.0 189.4h0M514.4 188.7h0M514.8 189.0h0M515.2 187.8h0M515.6 188.8h0M516.0 189.4h0M516.4 188.2h0M516.8 187.8h0M517.2 187.8h0M517.5 188.1h0M517.9 188.3h0M518.3 189.6h0M518.7 188.9h0M519.1 189.1h0M519.5 188.6h0M519.9 188.6h0M520.3 189.1h0M520.7 189.5h0M521.1 188.3h0M521.5 188.9h0M521.9 189.3h0M522.3 190.0h0M522.7 188.5h0M523.1 188.8h0M523.5 189.1h0M523.9 188.2h0M524.2 189.2h0M524.6 190.0h0M525.0 188.5h0M525.4 189.0h0M525.8 188.2h0M526.2 189.0h0M526.6 190.0h0M527.0 189.1h0M527.4 188.4h0M527.8 188.6h0M528.2 189.3h0M528.6 189.7h0M529.0 188.9h0M529.4 189.0h0M529.8 189.6h0M530.2 188.2h0M530.5 189.9h0M530.9 188.9h0M531.3 188.7h0M531.7 189.6h0M532.1 188.5h0M532.5 188.3h0M532.9 188.5h0M533.3 189.3h0" stroke="#4c72b0" stroke-width="5.1" stroke-linecap="round" fill="none"/>
<text class="t" transform="translate(399.1 35.6) scale(1 1.08)" text-anchor="end">0.05</text>
<text class="t" transform="translate(399.1 67.5) scale(1 1.08)" text-anchor="end">0.04</text>
<text class="t" transform="translate(399.1 99.4) scale(1 1.08)" text-anchor="end">0.03</text>
<text class="t" transform="translate(399.1 131.4) scale(1 1.08)" text-anchor="end">0.02</text>
<text class="t" transform="translate(399.1 163.3) scale(1 1.08)" text-anchor="end">0.01</text>
<text class="t" transform="translate(399.1 195.2) scale(1 1.08)" text-anchor="end">0.00</text>
<text class="t" transform="translate(415.5 216.4) scale(1 1.08)" text-anchor="middle">0</text>
<text class="t" transform="translate(494.3 216.4) scale(1 1.08)" text-anchor="middle">200</text>
<text class="h" transform="translate(474.2 18.4) scale(1 1.07)" text-anchor="middle">Classification</text>
</g>
<g class="ax">
<rect x="44.4" y="249.0" width="128.4" height="171.8" fill="#eaeaf2"/>
<path d="M49.6 249.0V420.8 M128.4 249.0V420.8 M44.4 268.3H172.8 M44.4 311.4H172.8 M44.4 354.5H172.8 M44.4 397.6H172.8" stroke="#fff" stroke-width="1.35" fill="none"/>
<polyline points="49.6,259.7 50.0,320.0 50.4,324.0 50.8,268.0 51.2,256.0 51.6,298.0 52.0,328.3 52.4,306.2 52.8,330.0 53.1,360.7 53.5,367.6 53.9,393.6 54.3,372.0 54.7,367.8 55.1,369.5 55.5,387.9 55.9,370.4 56.3,383.8 56.7,398.4 57.1,396.4 57.5,383.4 57.9,386.7 58.3,377.2 58.7,381.2 59.1,402.4 59.5,397.3 59.8,380.9 60.2,395.8 60.6,403.2 61.0,377.5 61.4,397.1 61.8,401.8 62.2,395.3 62.6,402.6 63.0,403.7 63.4,388.6 63.8,384.3 64.2,400.1 64.6,406.6 65.0,397.9 65.4,400.6 65.8,399.6 66.1,405.2 66.5,385.8 66.9,406.3 67.3,409.6 67.7,388.3 68.1,387.0 68.5,405.8 68.9,407.4 69.3,393.2 69.7,382.2 70.1,405.8 70.5,396.3 70.9,405.8 71.3,387.9 71.7,400.0 72.1,403.0 72.5,391.1 72.8,397.5 73.2,407.9 73.6,402.2 74.0,382.5 74.4,387.0 74.8,399.0 75.2,391.7 75.6,409.7 76.0,402.9 76.4,384.9 76.8,408.9 77.2,382.8 77.6,386.6 78.0,391.6 78.4,404.8 78.8,374.7 79.2,407.6 79.5,391.6 79.9,404.7 80.3,390.7 80.7,410.6 81.1,391.1 81.5,390.6 81.9,394.8 82.3,411.6 82.7,411.1 83.1,413.9 83.5,413.9 83.9,395.1 84.3,404.2 84.7,394.9 85.1,409.4 85.5,408.0 85.8,392.5 86.2,390.6 86.6,412.1 87.0,395.5 87.4,401.6 87.8,412.9 88.2,399.8 88.6,408.8 89.0,407.5 89.4,393.2 89.8,397.5 90.2,411.5 90.6,399.0 91.0,411.6 91.4,395.4 91.8,400.9 92.2,400.0 92.5,411.9 92.9,411.2 93.3,403.3 93.7,406.7 94.1,395.6 94.5,408.5 94.9,406.4 95.3,411.1 95.7,403.8 96.1,392.2 96.5,409.0 96.9,395.2 97.3,410.7 97.7,392.9 98.1,403.3 98.5,411.5 98.8,394.7 99.2,392.3 99.6,411.3 100.0,411.8 100.4,409.5 100.8,403.0 101.2,390.5 101.6,392.5 102.0,408.0 102.4,412.7 102.8,399.5 103.2,400.2 103.6,409.4 104.0,399.4 104.4,391.0 104.8,410.8 105.2,407.8 105.5,394.0 105.9,410.3 106.3,410.7 106.7,410.0 107.1,396.0 107.5,410.5 107.9,410.9 108.3,399.4 108.7,396.5 109.1,396.9 109.5,405.2 109.9,394.4 110.3,409.4 110.7,404.9 111.1,406.2 111.5,402.3 111.9,408.4 112.2,408.8 112.6,395.0 113.0,406.8 113.4,403.7 113.8,396.5 114.2,406.5 114.6,405.7 115.0,402.1 115.4,408.4 115.8,408.5 116.2,401.1 116.6,405.3 117.0,407.9 117.4,406.0 117.8,399.6 118.2,398.6 118.6,402.9 118.9,406.3 119.3,397.1 119.7,406.3 120.1,397.7 120.5,406.7 120.9,395.1 121.3,397.0 121.7,402.0 122.1,403.0 122.5,399.7 122.9,397.9 123.3,399.9 123.7,397.0 124.1,406.7 124.5,402.8 124.9,396.1 125.2,402.5 125.6,393.4 126.0,400.7 126.4,404.3 126.8,394.6 127.2,402.8 127.6,400.4 128.0,398.3 128.4,395.4 128.8,405.4 129.2,395.4 129.6,399.8 130.0,403.6 130.4,404.0 130.8,394.5 131.2,394.9 131.6,400.8 131.9,404.1 132.3,394.9 132.7,407.7 133.1,407.8 133.5,403.1 133.9,400.8 134.3,408.9 134.7,407.7 135.1,408.9 135.5,407.5 135.9,408.5 136.3,409.4 136.7,409.6 137.1,406.6 137.5,409.4 137.9,398.9 138.2,406.0 138.6,409.3 139.0,400.8 139.4,398.8 139.8,406.4 140.2,409.8 140.6,400.8 141.0,399.3 141.4,397.6 141.8,399.9 142.2,401.7 142.6,406.2 143.0,407.2 143.4,408.7 143.8,398.7 144.2,402.4 144.6,406.5 144.9,407.9 145.3,406.4 145.7,399.5 146.1,406.9 146.5,408.1 146.9,405.2 147.3,405.6 147.7,400.3 148.1,402.2 148.5,403.7 148.9,397.4 149.3,398.7 149.7,406.4 150.1,405.4 150.5,403.8 150.9,406.3 151.3,399.4 151.6,399.3 152.0,404.4 152.4,398.2 152.8,401.5 153.2,404.5 153.6,400.6 154.0,400.0 154.4,399.6 154.8,397.8 155.2,398.2 155.6,402.5 156.0,402.3 156.4,404.4 156.8,402.2 157.2,403.5 157.6,403.6 158.0,398.6 158.3,403.7 158.7,403.2 159.1,399.5 159.5,400.2 159.9,401.4 160.3,398.5 160.7,402.1 161.1,402.1 161.5,400.4 161.9,402.2 162.3,399.1 162.7,398.1 163.1,398.7 163.5,398.6 163.9,402.1 164.3,401.0 164.6,398.9 165.0,399.2 165.4,400.2 165.8,400.0 166.2,401.4 166.6,401.4 167.0,401.7 167.4,399.9" fill="none" stroke="#4c72b0" stroke-width="2.1" stroke-linejoin="round" stroke-linecap="round"/>
<path d="M49.6 259.7h0M50.0 320.0h0M50.4 324.0h0M50.8 268.0h0M51.2 256.0h0M51.6 298.0h0M52.0 328.3h0M52.4 306.2h0M52.8 330.0h0M53.1 360.7h0M53.5 367.6h0M53.9 393.6h0M54.3 372.0h0M54.7 367.8h0M55.1 369.5h0M55.5 387.9h0M55.9 370.4h0M56.3 383.8h0M56.7 398.4h0M57.1 396.4h0M57.5 383.4h0M57.9 386.7h0M58.3 377.2h0M58.7 381.2h0M59.1 402.4h0M59.5 397.3h0M59.8 380.9h0M60.2 395.8h0M60.6 403.2h0M61.0 377.5h0M61.4 397.1h0M61.8 401.8h0M62.2 395.3h0M62.6 402.6h0M63.0 403.7h0M63.4 388.6h0M63.8 384.3h0M64.2 400.1h0M64.6 406.6h0M65.0 397.9h0M65.4 400.6h0M65.8 399.6h0M66.1 405.2h0M66.5 385.8h0M66.9 406.3h0M67.3 409.6h0M67.7 388.3h0M68.1 387.0h0M68.5 405.8h0M68.9 407.4h0M69.3 393.2h0M69.7 382.2h0M70.1 405.8h0M70.5 396.3h0M70.9 405.8h0M71.3 387.9h0M71.7 400.0h0M72.1 403.0h0M72.5 391.1h0M72.8 397.5h0M73.2 407.9h0M73.6 402.2h0M74.0 382.5h0M74.4 387.0h0M74.8 399.0h0M75.2 391.7h0M75.6 409.7h0M76.0 402.9h0M76.4 384.9h0M76.8 408.9h0M77.2 382.8h0M77.6 386.6h0M78.0 391.6h0M78.4 404.8h0M78.8 374.7h0M79.2 407.6h0M79.5 391.6h0M79.9 404.7h0M80.3 390.7h0M80.7 410.6h0M81.1 391.1h0M81.5 390.6h0M81.9 394.8h0M82.3 411.6h0M82.7 411.1h0M83.1 413.9h0M83.5 413.9h0M83.9 395.1h0M84.3 404.2h0M84.7 394.9h0M85.1 409.4h0M85.5 408.0h0M85.8 392.5h0M86.2 390.6h0M86.6 412.1h0M87.0 395.5h0M87.4 401.6h0M87.8 412.9h0M88.2 399.8h0M88.6 408.8h0M89.0 407.5h0M89.4 393.2h0M89.8 397.5h0M90.2 411.5h0M90.6 399.0h0M91.0 411.6h0M91.4 395.4h0M91.8 400.9h0M92.2 400.0h0M92.5 411.9h0M92.9 411.2h0M93.3 403.3h0M93.7 406.7h0M94.1 395.6h0M94.5 408.5h0M94.9 406.4h0M95.3 411.1h0M95.7 403.8h0M96.1 392.2h0M96.5 409.0h0M96.9 395.2h0M97.3 410.7h0M97.7 392.9h0M98.1 403.3h0M98.5 411.5h0M98.8 394.7h0M99.2 392.3h0M99.6 411.3h0M100.0 411.8h0M100.4 409.5h0M100.8 403.0h0M101.2 390.5h0M101.6 392.5h0M102.0 408.0h0M102.4 412.7h0M102.8 399.5h0M103.2 400.2h0M103.6 409.4h0M104.0 399.4h0M104.4 391.0h0M104.8 410.8h0M105.2 407.8h0M105.5 394.0h0M105.9 410.3h0M106.3 410.7h0M106.7 410.0h0M107.1 396.0h0M107.5 410.5h0M107.9 410.9h0M108.3 399.4h0M108.7 396.5h0M109.1 396.9h0M109.5 405.2h0M109.9 394.4h0M110.3 409.4h0M110.7 404.9h0M111.1 406.2h0M111.5 402.3h0M111.9 408.4h0M112.2 408.8h0M112.6 395.0h0M113.0 406.8h0M113.4 403.7h0M113.8 396.5h0M114.2 406.5h0M114.6 405.7h0M115.0 402.1h0M115.4 408.4h0M115.8 408.5h0M116.2 401.1h0M116.6 405.3h0M117.0 407.9h0M117.4 406.0h0M117.8 399.6h0M118.2 398.6h0M118.6 402.9h0M118.9 406.3h0M119.3 397.1h0M119.7 406.3h0M120.1 397.7h0M120.5 406.7h0M120.9 395.1h0M121.3 397.0h0M121.7 402.0h0M122.1 403.0h0M122.5 399.7h0M122.9 397.9h0M123.3 399.9h0M123.7 397.0h0M124.1 406.7h0M124.5 402.8h0M124.9 396.1h0M125.2 402.5h0M125.6 393.4h0M126.0 400.7h0M126.4 404.3h0M126.8 394.6h0M127.2 402.8h0M127.6 400.4h0M128.0 398.3h0M128.4 395.4h0M128.8 405.4h0M129.2 395.4h0M129.6 399.8h0M130.0 403.6h0M130.4 404.0h0M130.8 394.5h0M131.2 394.9h0M131.6 400.8h0M131.9 404.1h0M132.3 394.9h0M132.7 407.7h0M133.1 407.8h0M133.5 403.1h0M133.9 400.8h0M134.3 408.9h0M134.7 407.7h0M135.1 408.9h0M135.5 407.5h0M135.9 408.5h0M136.3 409.4h0M136.7 409.6h0M137.1 406.6h0M137.5 409.4h0M137.9 398.9h0M138.2 406.0h0M138.6 409.3h0M139.0 400.8h0M139.4 398.8h0M139.8 406.4h0M140.2 409.8h0M140.6 400.8h0M141.0 399.3h0M141.4 397.6h0M141.8 399.9h0M142.2 401.7h0M142.6 406.2h0M143.0 407.2h0M143.4 408.7h0M143.8 398.7h0M144.2 402.4h0M144.6 406.5h0M144.9 407.9h0M145.3 406.4h0M145.7 399.5h0M146.1 406.9h0M146.5 408.1h0M146.9 405.2h0M147.3 405.6h0M147.7 400.3h0M148.1 402.2h0M148.5 403.7h0M148.9 397.4h0M149.3 398.7h0M149.7 406.4h0M150.1 405.4h0M150.5 403.8h0M150.9 406.3h0M151.3 399.4h0M151.6 399.3h0M152.0 404.4h0M152.4 398.2h0M152.8 401.5h0M153.2 404.5h0M153.6 400.6h0M154.0 400.0h0M154.4 399.6h0M154.8 397.8h0M155.2 398.2h0M155.6 402.5h0M156.0 402.3h0M156.4 404.4h0M156.8 402.2h0M157.2 403.5h0M157.6 403.6h0M158.0 398.6h0M158.3 403.7h0M158.7 403.2h0M159.1 399.5h0M159.5 400.2h0M159.9 401.4h0M160.3 398.5h0M160.7 402.1h0M161.1 402.1h0M161.5 400.4h0M161.9 402.2h0M162.3 399.1h0M162.7 398.1h0M163.1 398.7h0M163.5 398.6h0M163.9 402.1h0M164.3 401.0h0M164.6 398.9h0M165.0 399.2h0M165.4 400.2h0M165.8 400.0h0M166.2 401.4h0M166.6 401.4h0M167.0 401.7h0M167.4 399.9h0" stroke="#4c72b0" stroke-width="5.1" stroke-linecap="round" fill="none"/>
<text class="t" transform="translate(33.1 272.2) scale(1 1.08)" text-anchor="end">0.06</text>
<text class="t" transform="translate(33.1 315.3) scale(1 1.08)" text-anchor="end">0.05</text>
<text class="t" transform="translate(33.1 358.4) scale(1 1.08)" text-anchor="end">0.04</text>
<text class="t" transform="translate(33.1 401.5) scale(1 1.08)" text-anchor="end">0.03</text>
<text class="t" transform="translate(49.6 439.8) scale(1 1.08)" text-anchor="middle">0</text>
<text class="t" transform="translate(128.4 439.8) scale(1 1.08)" text-anchor="middle">200</text>
<text class="h" transform="translate(108.2 241.8) scale(1 1.07)" text-anchor="middle">val Box</text>
</g>
<g class="ax">
<rect x="227.6" y="249.0" width="128.4" height="171.8" fill="#eaeaf2"/>
<path d="M232.5 249.0V420.8 M311.3 249.0V420.8 M227.6 268.7H356.0 M227.6 305.0H356.0 M227.6 341.4H356.0 M227.6 377.7H356.0 M227.6 414.0H356.0" stroke="#fff" stroke-width="1.35" fill="none"/>
<polyline points="232.5,302.5 232.9,365.0 233.3,256.0 233.7,368.0 234.1,316.5 234.5,324.0 234.9,349.0 235.3,362.0 235.7,372.0 236.0,371.9 236.4,374.4 236.8,372.4 237.2,387.4 237.6,368.4 238.0,385.7 238.4,393.3 238.8,369.4 239.2,394.0 239.6,389.6 240.0,379.8 240.4,377.4 240.8,394.9 241.2,402.0 241.6,386.2 242.0,386.3 242.3,382.5 242.7,398.8 243.1,381.1 243.5,383.0 243.9,380.6 244.3,383.3 244.7,385.5 245.1,389.2 245.5,380.3 245.9,398.7 246.3,385.0 246.7,381.5 247.1,381.8 247.5,399.3 247.9,395.9 248.3,378.5 248.7,382.6 249.0,400.7 249.4,392.9 249.8,382.6 250.2,381.7 250.6,392.7 251.0,404.1 251.4,402.0 251.8,406.5 252.2,404.1 252.6,406.8 253.0,387.9 253.4,388.0 253.8,397.7 254.2,414.0 254.6,405.5 255.0,404.5 255.4,360.7 255.7,395.0 256.1,406.3 256.5,383.6 256.9,391.5 257.3,392.1 257.7,400.8 258.1,392.4 258.5,407.8 258.9,402.9 259.3,391.9 259.7,393.2 260.1,396.4 260.5,408.4 260.9,402.7 261.3,383.4 261.7,384.5 262.1,387.5 262.4,407.9 262.8,407.7 263.2,405.0 263.6,387.7 264.0,405.1 264.4,404.6 264.8,403.8 265.2,390.2 265.6,396.7 266.0,387.4 266.4,407.1 266.8,407.5 267.2,388.0 267.6,406.4 268.0,391.2 268.4,393.8 268.7,404.2 269.1,403.1 269.5,390.0 269.9,406.8 270.3,385.1 270.7,406.1 271.1,404.0 271.5,391.7 271.9,404.4 272.3,383.7 272.7,397.7 273.1,404.6 273.5,402.9 273.9,374.0 274.3,385.6 274.7,400.8 275.1,397.9 275.4,392.5 275.8,390.3 276.2,388.5 276.6,399.5 277.0,398.5 277.4,385.0 277.8,384.3 278.2,397.4 278.6,382.3 279.0,402.5 279.4,385.8 279.8,383.9 280.2,392.3 280.6,388.8 281.0,404.5 281.4,385.1 281.8,388.9 282.1,391.7 282.5,391.6 282.9,402.9 283.3,384.5 283.7,393.0 284.1,389.8 284.5,400.9 284.9,388.6 285.3,398.7 285.7,384.7 286.1,401.3 286.5,399.4 286.9,397.5 287.3,393.3 287.7,381.1 288.1,399.2 288.4,387.6 288.8,397.9 289.2,391.7 289.6,357.7 290.0,365.8 290.4,388.8 290.8,391.7 291.2,393.1 291.6,384.0 292.0,393.2 292.4,375.9 292.8,392.9 293.2,375.0 293.6,394.3 294.0,375.3 294.4,395.8 294.8,396.5 295.1,395.1 295.5,379.6 295.9,392.5 296.3,391.5 296.7,379.8 297.1,368.0 297.5,383.5 297.9,388.1 298.3,393.3 298.7,373.3 299.1,389.1 299.5,390.8 299.9,379.0 300.3,375.4 300.7,392.2 301.1,394.1 301.4,373.9 301.8,388.0 302.2,384.6 302.6,387.4 303.0,377.5 303.4,388.3 303.8,379.4 304.2,385.9 304.6,395.0 305.0,386.6 305.4,378.2 305.8,386.0 306.2,389.7 306.6,395.7 307.0,381.6 307.4,389.6 307.8,390.9 308.1,390.0 308.5,389.0 308.9,390.6 309.3,391.4 309.7,388.0 310.1,395.2 310.5,392.5 310.9,388.4 311.3,377.8 311.7,388.6 312.1,384.8 312.5,377.6 312.9,379.2 313.3,366.6 313.7,383.1 314.1,383.7 314.5,392.9 314.8,393.7 315.2,394.8 315.6,394.3 316.0,383.4 316.4,383.5 316.8,394.9 317.2,379.1 317.6,388.3 318.0,385.6 318.4,394.4 318.8,378.9 319.2,394.2 319.6,392.4 320.0,387.8 320.4,387.1 320.8,385.9 321.1,378.0 321.5,394.5 321.9,382.3 322.3,388.2 322.7,379.7 323.1,382.2 323.5,379.5 323.9,378.6 324.3,379.8 324.7,392.1 325.1,384.6 325.5,379.7 325.9,379.5 326.3,377.0 326.7,387.1 327.1,367.0 327.5,379.9 327.8,389.0 328.2,380.9 328.6,391.4 329.0,386.9 329.4,380.6 329.8,389.6 330.2,386.7 330.6,388.7 331.0,375.6 331.4,377.1 331.8,379.1 332.2,381.7 332.6,373.6 333.0,385.5 333.4,377.1 333.8,387.0 334.2,378.1 334.5,385.1 334.9,386.8 335.3,372.6 335.7,383.1 336.1,370.8 336.5,375.0 336.9,374.8 337.3,374.4 337.7,369.2 338.1,382.0 338.5,368.5 338.9,380.0 339.3,382.7 339.7,368.5 340.1,382.1 340.5,376.2 340.9,368.9 341.2,378.9 341.6,370.1 342.0,371.1 342.4,362.0 342.8,379.4 343.2,369.4 343.6,367.4 344.0,378.1 344.4,365.9 344.8,366.1 345.2,375.0 345.6,366.2 346.0,366.4 346.4,375.7 346.8,368.4 347.2,366.7 347.5,368.1 347.9,374.2 348.3,372.2 348.7,370.6 349.1,372.1 349.5,371.9 349.9,372.8 350.3,372.7" fill="none" stroke="#4c72b0" stroke-width="2.1" stroke-linejoin="round" stroke-linecap="round"/>
<path d="M232.5 302.5h0M232.9 365.0h0M233.3 256.0h0M233.7 368.0h0M234.1 316.5h0M234.5 324.0h0M234.9 349.0h0M235.3 362.0h0M235.7 372.0h0M236.0 371.9h0M236.4 374.4h0M236.8 372.4h0M237.2 387.4h0M237.6 368.4h0M238.0 385.7h0M238.4 393.3h0M238.8 369.4h0M239.2 394.0h0M239.6 389.6h0M240.0 379.8h0M240.4 377.4h0M240.8 394.9h0M241.2 402.0h0M241.6 386.2h0M242.0 386.3h0M242.3 382.5h0M242.7 398.8h0M243.1 381.1h0M243.5 383.0h0M243.9 380.6h0M244.3 383.3h0M244.7 385.5h0M245.1 389.2h0M245.5 380.3h0M245.9 398.7h0M246.3 385.0h0M246.7 381.5h0M247.1 381.8h0M247.5 399.3h0M247.9 395.9h0M248.3 378.5h0M248.7 382.6h0M249.0 400.7h0M249.4 392.9h0M249.8 382.6h0M250.2 381.7h0M250.6 392.7h0M251.0 404.1h0M251.4 402.0h0M251.8 406.5h0M252.2 404.1h0M252.6 406.8h0M253.0 387.9h0M253.4 388.0h0M253.8 397.7h0M254.2 414.0h0M254.6 405.5h0M255.0 404.5h0M255.4 360.7h0M255.7 395.0h0M256.1 406.3h0M256.5 383.6h0M256.9 391.5h0M257.3 392.1h0M257.7 400.8h0M258.1 392.4h0M258.5 407.8h0M258.9 402.9h0M259.3 391.9h0M259.7 393.2h0M260.1 396.4h0M260.5 408.4h0M260.9 402.7h0M261.3 383.4h0M261.7 384.5h0M262.1 387.5h0M262.4 407.9h0M262.8 407.7h0M263.2 405.0h0M263.6 387.7h0M264.0 405.1h0M264.4 404.6h0M264.8 403.8h0M265.2 390.2h0M265.6 396.7h0M266.0 387.4h0M266.4 407.1h0M266.8 407.5h0M267.2 388.0h0M267.6 406.4h0M268.0 391.2h0M268.4 393.8h0M268.7 404.2h0M269.1 403.1h0M269.5 390.0h0M269.9 406.8h0M270.3 385.1h0M270.7 406.1h0M271.1 404.0h0M271.5 391.7h0M271.9 404.4h0M272.3 383.7h0M272.7 397.7h0M273.1 404.6h0M273.5 402.9h0M273.9 374.0h0M274.3 385.6h0M274.7 400.8h0M275.1 397.9h0M275.4 392.5h0M275.8 390.3h0M276.2 388.5h0M276.6 399.5h0M277.0 398.5h0M277.4 385.0h0M277.8 384.3h0M278.2 397.4h0M278.6 382.3h0M279.0 402.5h0M279.4 385.8h0M279.8 383.9h0M280.2 392.3h0M280.6 388.8h0M281.0 404.5h0M281.4 385.1h0M281.8 388.9h0M282.1 391.7h0M282.5 391.6h0M282.9 402.9h0M283.3 384.5h0M283.7 393.0h0M284.1 389.8h0M284.5 400.9h0M284.9 388.6h0M285.3 398.7h0M285.7 384.7h0M286.1 401.3h0M286.5 399.4h0M286.9 397.5h0M287.3 393.3h0M287.7 381.1h0M288.1 399.2h0M288.4 387.6h0M288.8 397.9h0M289.2 391.7h0M289.6 357.7h0M290.0 365.8h0M290.4 388.8h0M290.8 391.7h0M291.2 393.1h0M291.6 384.0h0M292.0 393.2h0M292.4 375.9h0M292.8 392.9h0M293.2 375.0h0M293.6 394.3h0M294.0 375.3h0M294.4 395.8h0M294.8 396.5h0M295.1 395.1h0M295.5 379.6h0M295.9 392.5h0M296.3 391.5h0M296.7 379.8h0M297.1 368.0h0M297.5 383.5h0M297.9 388.1h0M298.3 393.3h0M298.7 373.3h0M299.1 389.1h0M299.5 390.8h0M299.9 379.0h0M300.3 375.4h0M300.7 392.2h0M301.1 394.1h0M301.4 373.9h0M301.8 388.0h0M302.2 384.6h0M302.6 387.4h0M303.0 377.5h0M303.4 388.3h0M303.8 379.4h0M304.2 385.9h0M304.6 395.0h0M305.0 386.6h0M305.4 378.2h0M305.8 386.0h0M306.2 389.7h0M306.6 395.7h0M307.0 381.6h0M307.4 389.6h0M307.8 390.9h0M308.1 390.0h0M308.5 389.0h0M308.9 390.6h0M309.3 391.4h0M309.7 388.0h0M310.1 395.2h0M310.5 392.5h0M310.9 388.4h0M311.3 377.8h0M311.7 388.6h0M312.1 384.8h0M312.5 377.6h0M312.9 379.2h0M313.3 366.6h0M313.7 383.1h0M314.1 383.7h0M314.5 392.9h0M314.8 393.7h0M315.2 394.8h0M315.6 394.3h0M316.0 383.4h0M316.4 383.5h0M316.8 394.9h0M317.2 379.1h0M317.6 388.3h0M318.0 385.6h0M318.4 394.4h0M318.8 378.9h0M319.2 394.2h0M319.6 392.4h0M320.0 387.8h0M320.4 387.1h0M320.8 385.9h0M321.1 378.0h0M321.5 394.5h0M321.9 382.3h0M322.3 388.2h0M322.7 379.7h0M323.1 382.2h0M323.5 379.5h0M323.9 378.6h0M324.3 379.8h0M324.7 392.1h0M325.1 384.6h0M325.5 379.7h0M325.9 379.5h0M326.3 377.0h0M326.7 387.1h0M327.1 367.0h0M327.5 379.9h0M327.8 389.0h0M328.2 380.9h0M328.6 391.4h0M329.0 386.9h0M329.4 380.6h0M329.8 389.6h0M330.2 386.7h0M330.6 388.7h0M331.0 375.6h0M331.4 377.1h0M331.8 379.1h0M332.2 381.7h0M332.6 373.6h0M333.0 385.5h0M333.4 377.1h0M333.8 387.0h0M334.2 378.1h0M334.5 385.1h0M334.9 386.8h0M335.3 372.6h0M335.7 383.1h0M336.1 370.8h0M336.5 375.0h0M336.9 374.8h0M337.3 374.4h0M337.7 369.2h0M338.1 382.0h0M338.5 368.5h0M338.9 380.0h0M339.3 382.7h0M339.7 368.5h0M340.1 382.1h0M340.5 376.2h0M340.9 368.9h0M341.2 378.9h0M341.6 370.1h0M342.0 371.1h0M342.4 362.0h0M342.8 379.4h0M343.2 369.4h0M343.6 367.4h0M344.0 378.1h0M344.4 365.9h0M344.8 366.1h0M345.2 375.0h0M345.6 366.2h0M346.0 366.4h0M346.4 375.7h0M346.8 368.4h0M347.2 366.7h0M347.5 368.1h0M347.9 374.2h0M348.3 372.2h0M348.7 370.6h0M349.1 372.1h0M349.5 371.9h0M349.9 372.8h0M350.3 372.7h0" stroke="#4c72b0" stroke-width="5.1" stroke-linecap="round" fill="none"/>
<text class="t" transform="translate(216.3 272.6) scale(1 1.08)" text-anchor="end">0.018</text>
<text class="t" transform="translate(216.3 308.9) scale(1 1.08)" text-anchor="end">0.016</text>
<text class="t" transform="translate(216.3 345.3) scale(1 1.08)" text-anchor="end">0.014</text>
<text class="t" transform="translate(216.3 381.6) scale(1 1.08)" text-anchor="end">0.012</text>
<text class="t" transform="translate(216.3 417.9) scale(1 1.08)" text-anchor="end">0.010</text>
<text class="t" transform="translate(232.5 439.8) scale(1 1.08)" text-anchor="middle">0</text>
<text class="t" transform="translate(311.3 439.8) scale(1 1.08)" text-anchor="middle">200</text>
<text class="h" transform="translate(291.4 241.8) scale(1 1.07)" text-anchor="middle">val Objectness</text>
</g>
<g class="ax">
<rect x="410.4" y="249.0" width="128.4" height="171.8" fill="#eaeaf2"/>
<path d="M415.5 249.0V420.8 M494.3 249.0V420.8 M410.4 286.5H538.8 M410.4 329.2H538.8 M410.4 371.9H538.8 M410.4 414.6H538.8" stroke="#fff" stroke-width="1.35" fill="none"/>
<polyline points="415.5,280.0 415.9,350.0 416.3,358.0 416.7,352.0 417.1,256.0 417.5,325.0 417.9,360.7 418.3,383.6 418.7,387.4 419.0,404.0 419.4,406.7 419.8,403.8 420.2,409.6 420.6,407.3 421.0,408.5 421.4,408.4 421.8,410.3 422.2,409.7 422.6,410.2 423.0,408.2 423.4,409.7 423.8,408.7 424.2,409.2 424.6,408.4 425.0,406.0 425.4,409.7 425.7,409.6 426.1,409.2 426.5,409.7 426.9,410.6 427.3,411.4 427.7,409.9 428.1,411.4 428.5,409.2 428.9,407.7 429.3,408.4 429.7,408.5 430.1,411.7 430.5,412.2 430.9,411.8 431.3,410.1 431.7,412.1 432.0,412.1 432.4,407.6 432.8,411.3 433.2,412.3 433.6,410.7 434.0,409.8 434.4,411.0 434.8,412.2 435.2,410.8 435.6,412.4 436.0,409.9 436.4,408.8 436.8,412.5 437.2,410.8 437.6,409.6 438.0,410.6 438.4,412.4 438.7,412.5 439.1,411.5 439.5,412.6 439.9,409.9 440.3,411.3 440.7,412.0 441.1,410.3 441.5,412.3 441.9,411.4 442.3,411.4 442.7,412.5 443.1,410.3 443.5,410.7 443.9,412.4 444.3,411.8 444.7,412.1 445.1,409.8 445.4,411.0 445.8,409.8 446.2,410.6 446.6,410.5 447.0,412.2 447.4,410.4 447.8,412.2 448.2,410.5 448.6,411.0 449.0,411.7 449.4,412.6 449.8,411.4 450.2,411.4 450.6,411.2 451.0,412.8 451.4,412.5 451.7,411.7 452.1,410.7 452.5,412.5 452.9,410.6 453.3,410.3 453.7,412.8 454.1,411.3 454.5,406.5 454.9,408.0 455.3,412.6 455.7,412.3 456.1,412.9 456.5,411.5 456.9,412.2 457.3,412.4 457.7,411.0 458.1,410.7 458.4,412.2 458.8,412.5 459.2,411.9 459.6,407.5 460.0,411.1 460.4,412.6 460.8,412.9 461.2,413.0 461.6,412.8 462.0,412.9 462.4,411.2 462.8,411.9 463.2,412.1 463.6,411.2 464.0,412.1 464.4,411.9 464.8,412.9 465.1,412.7 465.5,412.1 465.9,411.6 466.3,412.7 466.7,412.5 467.1,412.8 467.5,412.8 467.9,412.2 468.3,411.5 468.7,411.3 469.1,412.3 469.5,413.0 469.9,412.8 470.3,412.1 470.7,411.5 471.1,413.0 471.4,411.8 471.8,411.7 472.2,413.0 472.6,411.7 473.0,412.3 473.4,408.5 473.8,409.5 474.2,412.2 474.6,411.8 475.0,412.0 475.4,412.7 475.8,412.7 476.2,411.6 476.6,412.9 477.0,412.8 477.4,413.0 477.8,412.8 478.1,412.5 478.5,413.0 478.9,409.5 479.3,412.5 479.7,412.8 480.1,412.2 480.5,412.6 480.9,412.9 481.3,412.3 481.7,412.6 482.1,412.8 482.5,413.1 482.9,411.9 483.3,413.1 483.7,412.9 484.1,412.6 484.4,412.1 484.8,413.0 485.2,413.1 485.6,412.5 486.0,412.1 486.4,412.8 486.8,412.0 487.2,413.0 487.6,412.3 488.0,413.2 488.4,412.6 488.8,412.3 489.2,413.0 489.6,412.4 490.0,412.7 490.4,413.0 490.8,413.2 491.1,412.7 491.5,413.0 491.9,412.8 492.3,413.1 492.7,413.2 493.1,413.2 493.5,412.8 493.9,413.2 494.3,413.1 494.7,412.8 495.1,413.1 495.5,413.0 495.9,413.0 496.3,412.6 496.7,413.0 497.1,413.1 497.5,412.4 497.8,413.2 498.2,412.8 498.6,412.8 499.0,413.1 499.4,412.7 499.8,412.7 500.2,412.9 500.6,413.1 501.0,413.2 501.4,412.5 501.8,412.4 502.2,413.1 502.6,413.1 503.0,412.8 503.4,412.6 503.8,412.6 504.1,412.7 504.5,412.7 504.9,412.8 505.3,413.2 505.7,412.9 506.1,412.7 506.5,413.1 506.9,413.1 507.3,413.0 507.7,412.9 508.1,413.2 508.5,412.7 508.9,412.7 509.3,409.8 509.7,410.5 510.1,413.1 510.5,413.0 510.8,412.4 511.2,413.0 511.6,412.5 512.0,413.1 512.4,413.1 512.8,412.9 513.2,413.2 513.6,413.2 514.0,412.8 514.4,413.0 514.8,412.7 515.2,413.1 515.6,413.1 516.0,412.5 516.4,412.8 516.8,413.2 517.2,413.0 517.5,413.2 517.9,413.2 518.3,412.9 518.7,413.2 519.1,413.1 519.5,413.2 519.9,413.2 520.3,413.0 520.7,413.1 521.1,413.0 521.5,413.0 521.9,413.1 522.3,413.1 522.7,413.1 523.1,412.5 523.5,413.0 523.9,412.9 524.2,412.7 524.6,412.7 525.0,412.7 525.4,412.5 525.8,412.9 526.2,413.1 526.6,412.8 527.0,412.9 527.4,412.6 527.8,413.1 528.2,412.8 528.6,413.2 529.0,410.0 529.4,413.0 529.8,410.2 530.2,412.6 530.5,410.8 530.9,413.1 531.3,412.7 531.7,412.5 532.1,412.8 532.5,413.0 532.9,412.8 533.3,413.0" fill="none" stroke="#4c72b0" stroke-width="2.1" stroke-linejoin="round" stroke-linecap="round"/>
<path d="M415.5 280.0h0M415.9 350.0h0M416.3 358.0h0M416.7 352.0h0M417.1 256.0h0M417.5 325.0h0M417.9 360.7h0M418.3 383.6h0M418.7 387.4h0M419.0 404.0h0M419.4 406.7h0M419.8 403.8h0M420.2 409.6h0M420.6 407.3h0M421.0 408.5h0M421.4 408.4h0M421.8 410.3h0M422.2 409.7h0M422.6 410.2h0M423.0 408.2h0M423.4 409.7h0M423.8 408.7h0M424.2 409.2h0M424.6 408.4h0M425.0 406.0h0M425.4 409.7h0M425.7 409.6h0M426.1 409.2h0M426.5 409.7h0M426.9 410.6h0M427.3 411.4h0M427.7 409.9h0M428.1 411.4h0M428.5 409.2h0M428.9 407.7h0M429.3 408.4h0M429.7 408.5h0M430.1 411.7h0M430.5 412.2h0M430.9 411.8h0M431.3 410.1h0M431.7 412.1h0M432.0 412.1h0M432.4 407.6h0M432.8 411.3h0M433.2 412.3h0M433.6 410.7h0M434.0 409.8h0M434.4 411.0h0M434.8 412.2h0M435.2 410.8h0M435.6 412.4h0M436.0 409.9h0M436.4 408.8h0M436.8 412.5h0M437.2 410.8h0M437.6 409.6h0M438.0 410.6h0M438.4 412.4h0M438.7 412.5h0M439.1 411.5h0M439.5 412.6h0M439.9 409.9h0M440.3 411.3h0M440.7 412.0h0M441.1 410.3h0M441.5 412.3h0M441.9 411.4h0M442.3 411.4h0M442.7 412.5h0M443.1 410.3h0M443.5 410.7h0M443.9 412.4h0M444.3 411.8h0M444.7 412.1h0M445.1 409.8h0M445.4 411.0h0M445.8 409.8h0M446.2 410.6h0M446.6 410.5h0M447.0 412.2h0M447.4 410.4h0M447.8 412.2h0M448.2 410.5h0M448.6 411.0h0M449.0 411.7h0M449.4 412.6h0M449.8 411.4h0M450.2 411.4h0M450.6 411.2h0M451.0 412.8h0M451.4 412.5h0M451.7 411.7h0M452.1 410.7h0M452.5 412.5h0M452.9 410.6h0M453.3 410.3h0M453.7 412.8h0M454.1 411.3h0M454.5 406.5h0M454.9 408.0h0M455.3 412.6h0M455.7 412.3h0M456.1 412.9h0M456.5 411.5h0M456.9 412.2h0M457.3 412.4h0M457.7 411.0h0M458.1 410.7h0M458.4 412.2h0M458.8 412.5h0M459.2 411.9h0M459.6 407.5h0M460.0 411.1h0M460.4 412.6h0M460.8 412.9h0M461.2 413.0h0M461.6 412.8h0M462.0 412.9h0M462.4 411.2h0M462.8 411.9h0M463.2 412.1h0M463.6 411.2h0M464.0 412.1h0M464.4 411.9h0M464.8 412.9h0M465.1 412.7h0M465.5 412.1h0M465.9 411.6h0M466.3 412.7h0M466.7 412.5h0M467.1 412.8h0M467.5 412.8h0M467.9 412.2h0M468.3 411.5h0M468.7 411.3h0M469.1 412.3h0M469.5 413.0h0M469.9 412.8h0M470.3 412.1h0M470.7 411.5h0M471.1 413.0h0M471.4 411.8h0M471.8 411.7h0M472.2 413.0h0M472.6 411.7h0M473.0 412.3h0M473.4 408.5h0M473.8 409.5h0M474.2 412.2h0M474.6 411.8h0M475.0 412.0h0M475.4 412.7h0M475.8 412.7h0M476.2 411.6h0M476.6 412.9h0M477.0 412.8h0M477.4 413.0h0M477.8 412.8h0M478.1 412.5h0M478.5 413.0h0M478.9 409.5h0M479.3 412.5h0M479.7 412.8h0M480.1 412.2h0M480.5 412.6h0M480.9 412.9h0M481.3 412.3h0M481.7 412.6h0M482.1 412.8h0M482.5 413.1h0M482.9 411.9h0M483.3 413.1h0M483.7 412.9h0M484.1 412.6h0M484.4 412.1h0M484.8 413.0h0M485.2 413.1h0M485.6 412.5h0M486.0 412.1h0M486.4 412.8h0M486.8 412.0h0M487.2 413.0h0M487.6 412.3h0M488.0 413.2h0M488.4 412.6h0M488.8 412.3h0M489.2 413.0h0M489.6 412.4h0M490.0 412.7h0M490.4 413.0h0M490.8 413.2h0M491.1 412.7h0M491.5 413.0h0M491.9 412.8h0M492.3 413.1h0M492.7 413.2h0M493.1 413.2h0M493.5 412.8h0M493.9 413.2h0M494.3 413.1h0M494.7 412.8h0M495.1 413.1h0M495.5 413.0h0M495.9 413.0h0M496.3 412.6h0M496.7 413.0h0M497.1 413.1h0M497.5 412.4h0M497.8 413.2h0M498.2 412.8h0M498.6 412.8h0M499.0 413.1h0M499.4 412.7h0M499.8 412.7h0M500.2 412.9h0M500.6 413.1h0M501.0 413.2h0M501.4 412.5h0M501.8 412.4h0M502.2 413.1h0M502.6 413.1h0M503.0 412.8h0M503.4 412.6h0M503.8 412.6h0M504.1 412.7h0M504.5 412.7h0M504.9 412.8h0M505.3 413.2h0M505.7 412.9h0M506.1 412.7h0M506.5 413.1h0M506.9 413.1h0M507.3 413.0h0M507.7 412.9h0M508.1 413.2h0M508.5 412.7h0M508.9 412.7h0M509.3 409.8h0M509.7 410.5h0M510.1 413.1h0M510.5 413.0h0M510.8 412.4h0M511.2 413.0h0M511.6 412.5h0M512.0 413.1h0M512.4 413.1h0M512.8 412.9h0M513.2 413.2h0M513.6 413.2h0M514.0 412.8h0M514.4 413.0h0M514.8 412.7h0M515.2 413.1h0M515.6 413.1h0M516.0 412.5h0M516.4 412.8h0M516.8 413.2h0M517.2 413.0h0M517.5 413.2h0M517.9 413.2h0M518.3 412.9h0M518.7 413.2h0M519.1 413.1h0M519.5 413.2h0M519.9 413.2h0M520.3 413.0h0M520.7 413.1h0M521.1 413.0h0M521.5 413.0h0M521.9 413.1h0M522.3 413.1h0M522.7 413.1h0M523.1 412.5h0M523.5 413.0h0M523.9 412.9h0M524.2 412.7h0M524.6 412.7h0M525.0 412.7h0M525.4 412.5h0M525.8 412.9h0M526.2 413.1h0M526.6 412.8h0M527.0 412.9h0M527.4 412.6h0M527.8 413.1h0M528.2 412.8h0M528.6 413.2h0M529.0 410.0h0M529.4 413.0h0M529.8 410.2h0M530.2 412.6h0M530.5 410.8h0M530.9 413.1h0M531.3 412.7h0M531.7 412.5h0M532.1 412.8h0M532.5 413.0h0M532.9 412.8h0M533.3 413.0h0" stroke="#4c72b0" stroke-width="5.1" stroke-linecap="round" fill="none"/>
<text class="t" transform="translate(399.1 290.4) scale(1 1.08)" text-anchor="end">0.03</text>
<text class="t" transform="translate(399.1 333.1) scale(1 1.08)" text-anchor="end">0.02</text>
<text class="t" transform="translate(399.1 375.8) scale(1 1.08)" text-anchor="end">0.01</text>
<text class="t" transform="translate(399.1 418.5) scale(1 1.08)" text-anchor="end">0.00</text>
<text class="t" transform="translate(415.5 439.8) scale(1 1.08)" text-anchor="middle">0</text>
<text class="t" transform="translate(494.3 439.8) scale(1 1.08)" text-anchor="middle">200</text>
<text class="h" transform="translate(474.2 241.8) scale(1 1.07)" text-anchor="middle">val Classification</text>
</g>
</g>
</svg>
</body></html>
